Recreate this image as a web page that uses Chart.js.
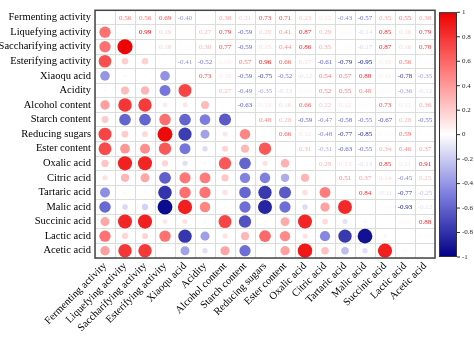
<!DOCTYPE html>
<html>
<head>
<meta charset="utf-8">
<script src="https://cdn.jsdelivr.net/npm/chart.js@4.4.1/dist/chart.umd.min.js"></script>
<style>
    html, body { margin: 0; padding: 0; background: #fff; }
</style>
</head>
<body>
<canvas id="corrChart" width="474" height="338"></canvas>
<script>
// Variable names (rows top to bottom, columns left to right)
const variables = [
    'Fermenting activity', 'Liquefying activity', 'Saccharifying activity', 'Esterifying activity',
    'Xiaoqu acid', 'Acidity', 'Alcohol content', 'Starch content', 'Reducing sugars',
    'Ester content', 'Oxalic acid', 'Citric acid', 'Tartaric acid', 'Malic acid',
    'Succinic acid', 'Lactic acid', 'Acetic acid'
];

// Correlation coefficients, upper triangle: each row starts at the column right of the diagonal
const rFermenting = [0.56, 0.56, 0.69, -0.40, 0.03, 0.38, 0.21, 0.73, 0.71, 0.23, 0.12, -0.43, -0.57, 0.35, 0.55, 0.38];
const rLiquefying = [0.99, 0.19, 0.03, 0.27, 0.79, -0.59, 0.20, 0.41, 0.87, 0.29, 0.04, -0.14, 0.85, 0.16, 0.79];
const rSaccharifying = [0.18, 0.02, 0.30, 0.77, -0.59, 0.15, 0.44, 0.86, 0.35, 0.03, -0.17, 0.87, 0.16, 0.78];
const rEsterifying = [-0.41, -0.52, 0.09, 0.57, 0.96, 0.66, 0.17, -0.61, -0.79, -0.95, 0.10, 0.56, 0.02];
const rXiaoquAcid = [0.73, 0.10, -0.59, -0.75, -0.52, -0.12, 0.54, 0.57, 0.88, 0.11, -0.78, -0.35];
const rAcidity = [0.27, -0.49, -0.35, -0.13, 0.04, 0.52, 0.55, 0.48, 0.03, -0.36, -0.12];
const rAlcohol = [-0.63, 0.10, 0.16, 0.66, 0.22, 0.12, 0.03, 0.73, 0.11, 0.36];
const rStarch = [0.48, 0.28, -0.59, -0.47, -0.58, -0.55, -0.67, 0.28, -0.55];
const rReducingSugars = [0.66, 0.12, -0.48, -0.77, -0.85, 0.03, 0.59, 0.02];
const rEster = [0.31, -0.31, -0.63, -0.55, 0.34, 0.46, 0.37];
const rOxalic = [0.29, 0.13, -0.13, 0.85, 0.11, 0.91];
const rCitric = [0.51, 0.37, 0.14, -0.45, 0.25];
const rTartaric = [0.84, -0.11, -0.77, -0.25];
const rMalic = [0.04, -0.93, -0.12];
const rSuccinic = [0.05, 0.88];
const rLactic = [0.03];

const upperRows = [rFermenting, rLiquefying, rSaccharifying, rEsterifying, rXiaoquAcid, rAcidity,
    rAlcohol, rStarch, rReducingSugars, rEster, rOxalic, rCitric, rTartaric, rMalic, rSuccinic, rLactic];

const colorbarTicks = [1, 0.8, 0.6, 0.4, 0.2, 0, -0.2, -0.4, -0.6, -0.8, -1];

const n = variables.length;

// full symmetric matrix
function buildMatrix() {
    const m = [];
    for (let i = 0; i < n; i++) m.push(new Array(n).fill(1));
    upperRows.forEach((row, i) => {
        row.forEach((v, k) => {
            const j = i + 1 + k;
            m[i][j] = v;
            m[j][i] = v;
        });
    });
    return m;
}
const matrix = buildMatrix();

// lower triangle -> circles
const circlePoints = [];
for (let i = 1; i < n; i++) {
    for (let j = 0; j < i; j++) {
        circlePoints.push({ x: j, y: i, v: matrix[i][j] });
    }
}

// blue - white - red colour ramp
const negStops = [[0, [255, 255, 255]], [0.5, [122, 122, 222]], [1, [0, 0, 135]]];
const posStops = [[0, [255, 255, 255]], [0.5, [255, 128, 128]], [1, [238, 0, 0]]];

function rampColor(v) {
    const stops = v < 0 ? negStops : posStops;
    const t = Math.min(Math.abs(v), 1);
    for (let k = 1; k < stops.length; k++) {
        if (t <= stops[k][0]) {
            const [t0, c0] = stops[k - 1];
            const [t1, c1] = stops[k];
            const f = (t - t0) / (t1 - t0);
            const c = c0.map((a, idx) => Math.round(a + (c1[idx] - a) * f));
            return `rgb(${c[0]}, ${c[1]}, ${c[2]})`;
        }
    }
    return 'rgb(0,0,0)';
}

const serif = '"Liberation Serif", "Times New Roman", serif';

// numbers in the upper triangle, frame and the colour bar
const corrDecor = {
    id: 'corrDecor',
    afterDatasetsDraw(chart) {
        const { ctx, chartArea, scales: { x, y } } = chart;
        ctx.save();
        ctx.font = '7px ' + serif;
        ctx.textAlign = 'center';
        ctx.textBaseline = 'middle';
        for (let i = 0; i < n; i++) {
            for (let j = i + 1; j < n; j++) {
                const v = matrix[i][j];
                ctx.fillStyle = rampColor(v);
                ctx.fillText(v.toFixed(2), x.getPixelForValue(j), y.getPixelForValue(i) + 0.5);
            }
        }
        // frame
        ctx.strokeStyle = '#444';
        ctx.lineWidth = 1.5;
        ctx.strokeRect(chartArea.left, chartArea.top, chartArea.width, chartArea.height);

        // colour bar
        const barL = chartArea.right + 4, barW = 18;
        const barT = chartArea.top + 2, barB = chartArea.bottom - 1;
        const grad = ctx.createLinearGradient(0, barT, 0, barB);
        for (let s = 0; s <= 40; s++) {
            const v = 1 - s / 20;
            grad.addColorStop(s / 40, rampColor(v));
        }
        ctx.fillStyle = grad;
        ctx.fillRect(barL, barT, barW, barB - barT);
        ctx.strokeStyle = '#333';
        ctx.lineWidth = 1;
        ctx.strokeRect(barL + 0.5, barT + 0.5, barW - 1, barB - barT - 1);
        ctx.font = '7px ' + serif;
        ctx.textAlign = 'left';
        ctx.fillStyle = '#222';
        colorbarTicks.forEach(t => {
            const ty = barT + (1 - t) / 2 * (barB - barT);
            ctx.beginPath();
            ctx.moveTo(barL + barW, ty);
            ctx.lineTo(barL + barW + 3, ty);
            ctx.stroke();
            ctx.fillText(String(t), barL + barW + 5, ty);
        });
        ctx.restore();
    }
};

new Chart(document.getElementById('corrChart'), {
    type: 'bubble',
    data: {
        datasets: [{
            data: circlePoints,
            backgroundColor: ctx => rampColor(ctx.raw ? ctx.raw.v : 0),
            borderWidth: 0,
            radius: ctx => ctx.raw ? 7.6 * Math.sqrt(Math.abs(ctx.raw.v)) : 0,
            hoverRadius: 0
        }]
    },
    options: {
        responsive: false,
        animation: false,
        events: [],
        layout: { padding: { left: 0, right: 39, top: 1, bottom: 0 } },
        plugins: {
            legend: { display: false },
            tooltip: { enabled: false }
        },
        scales: {
            x: {
                type: 'linear',
                min: -0.5,
                max: n - 0.5,
                afterBuildTicks: scale => { scale.ticks = variables.map((_, i) => ({ value: i })); },
                afterFit: scale => { scale.height = 80; },
                ticks: {
                    autoSkip: false,
                    minRotation: 45,
                    maxRotation: 45,
                    padding: 2,
                    color: '#000',
                    font: { family: serif, size: 10.5 },
                    callback: v => variables[v]
                },
                grid: { offset: true, color: '#dcdcdc', drawTicks: false },
                border: { display: false }
            },
            y: {
                type: 'linear',
                reverse: true,
                min: -0.5,
                max: n - 0.5,
                afterBuildTicks: scale => { scale.ticks = variables.map((_, i) => ({ value: i })); },
                afterFit: scale => { scale.width = 95; },
                ticks: {
                    autoSkip: false,
                    padding: 4,
                    color: '#000',
                    font: { family: serif, size: 10.5 },
                    callback: v => variables[v]
                },
                grid: { offset: true, color: '#dcdcdc', drawTicks: false },
                border: { display: false }
            }
        }
    },
    plugins: [corrDecor]
});
</script>
</body>
</html>
